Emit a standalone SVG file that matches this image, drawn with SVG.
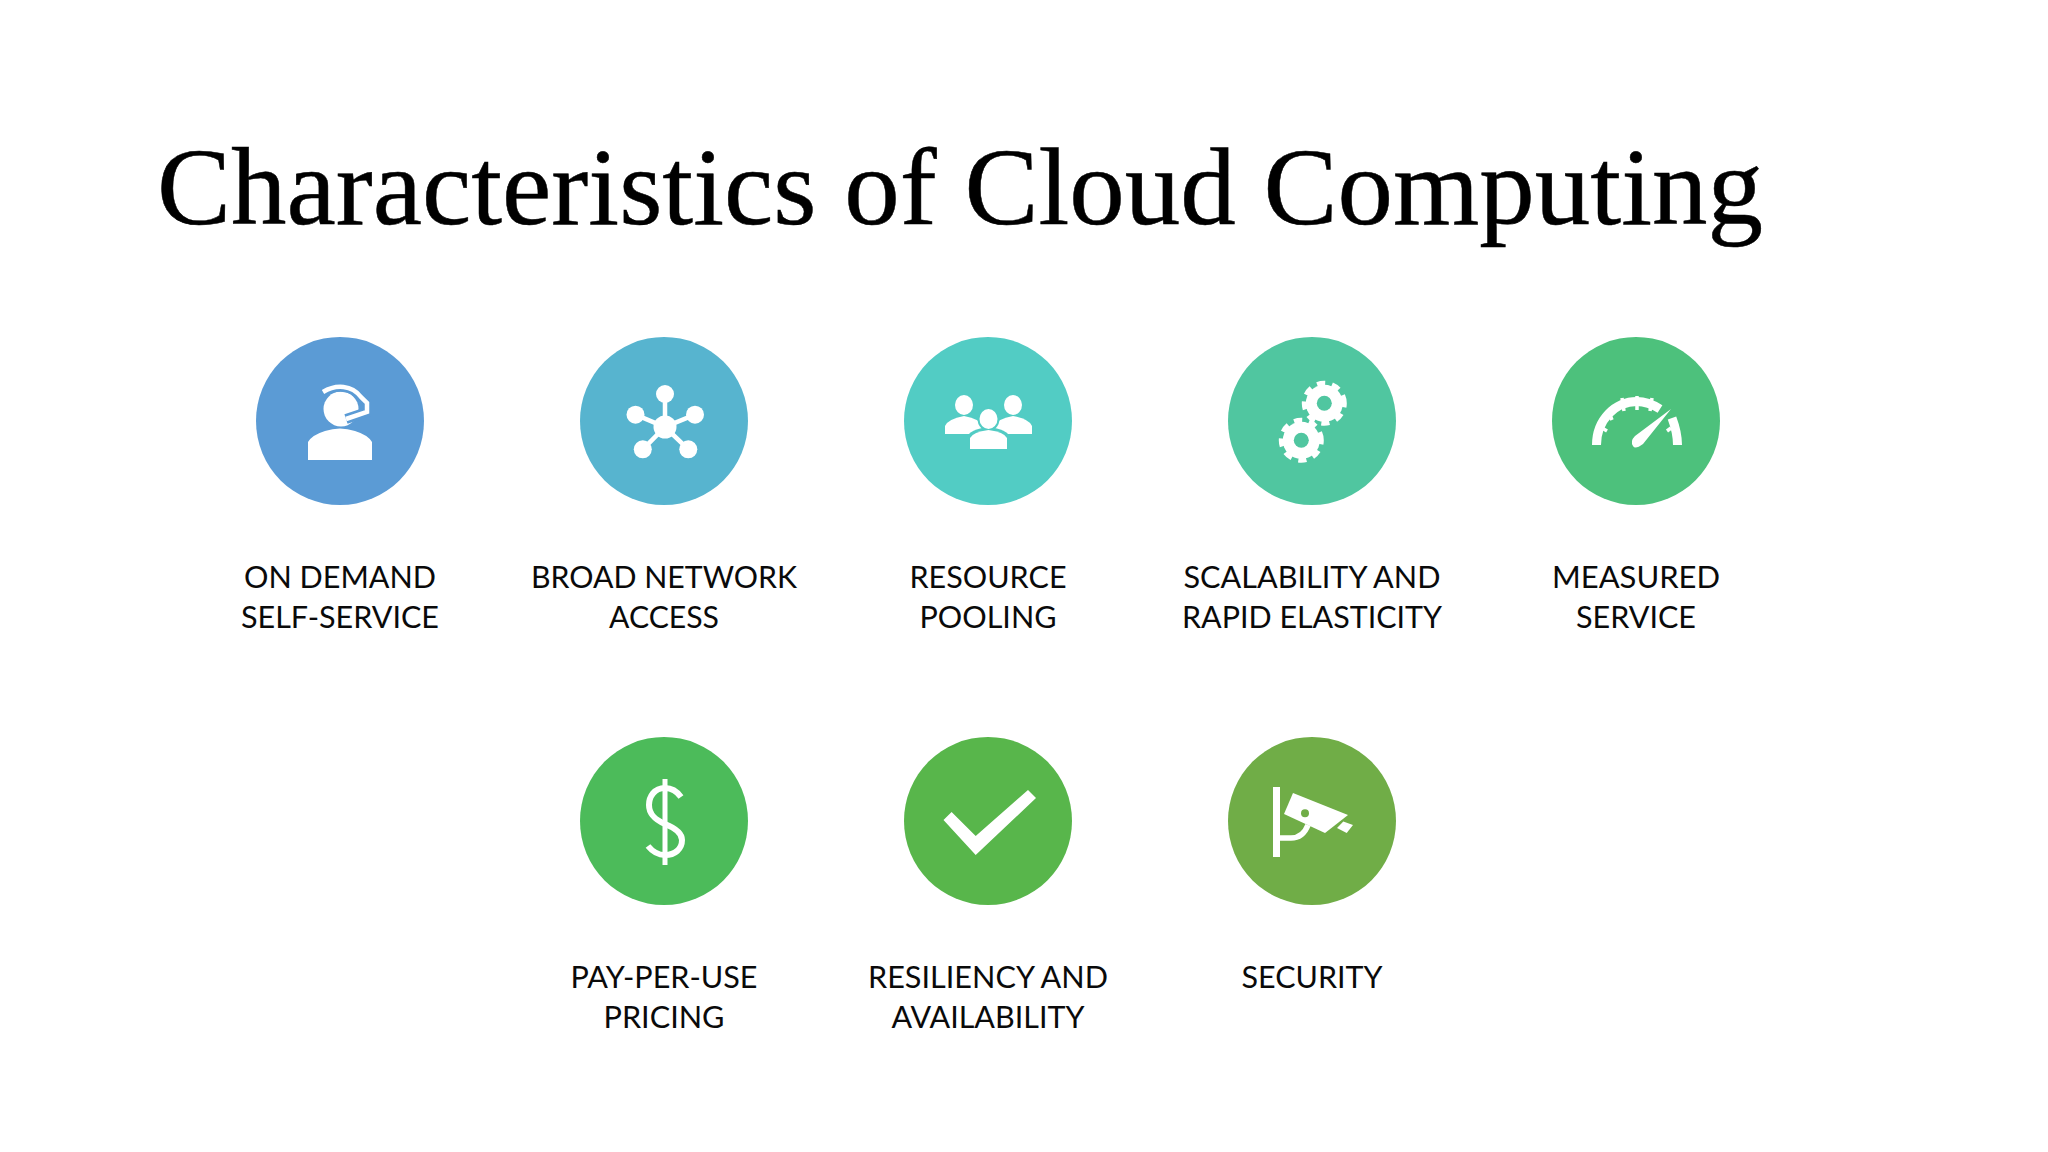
<svg xmlns="http://www.w3.org/2000/svg" xmlns:xlink="http://www.w3.org/1999/xlink" width="2048" height="1152" viewBox="0 0 2048 1152">
<style>
.t{font-family:"Liberation Serif","Times New Roman",serif;font-size:110px;fill:#000;stroke:#000;stroke-width:.5}
.l{font-family:Lato,"Open Sans",sans-serif;font-size:31.500px;fill:#0a0a0a;text-anchor:middle}
.w{fill:#fff}
.s{fill:none;stroke:#fff}
</style>
<defs>
<g id="gear"><circle r="18.500" class="w"/><circle r="19.500" fill="none" stroke="#fff" stroke-width="6" stroke-dasharray="8 6.700" stroke-dashoffset="4"/></g>
</defs>
<rect width="2048" height="1152" fill="#fff"/>
<text id="title" class="t" x="157" y="224" textLength="1606" lengthAdjust="spacingAndGlyphs">Characteristics of Cloud Computing</text>

<g id="node-on-demand">
<circle cx="340" cy="421" r="84" fill="#5b9bd5"/>
<circle cx="341" cy="409" r="17.500" class="w"/>
<path d="M323 392C336 384 352 385 361 397L367 403V412L346 419" fill="none" stroke="#5b9bd5" stroke-width="10"/>
<path d="M323 392C336 384 352 385 361 397L367 403V412L346 419" class="s" stroke-width="4.500"/>
<path d="M308 460V442Q312 435 325 431Q340 426 355 431Q368 435 372 442V460Z" class="w"/>
<text class="l" x="340" y="588" textLength="192" lengthAdjust="spacingAndGlyphs">ON DEMAND</text>
<text class="l" x="340" y="628" textLength="198" lengthAdjust="spacingAndGlyphs">SELF-SERVICE</text>
</g>

<g id="node-broad-network">
<circle cx="664" cy="421" r="84" fill="#57b4cf"/>
<path d="M665 394V427L635.500 414.700M695 414.700L665 427L642.800 449.300M688.300 449.300L665 427" class="s" stroke-width="4.500"/>
<g class="w"><circle cx="665" cy="427" r="11.500"/><circle cx="665" cy="394" r="9"/><circle cx="635.500" cy="414.700" r="9"/><circle cx="695" cy="414.700" r="9"/><circle cx="642.800" cy="449.300" r="9"/><circle cx="688.300" cy="449.300" r="9"/></g>
<text class="l" x="664" y="588" textLength="266" lengthAdjust="spacingAndGlyphs">BROAD NETWORK</text>
<text class="l" x="664" y="628" textLength="110" lengthAdjust="spacingAndGlyphs">ACCESS</text>
</g>

<g id="node-resource-pooling">
<circle cx="988" cy="421" r="84" fill="#52ccc4"/>
<g class="w">
<ellipse cx="964" cy="405" rx="9" ry="10"/><ellipse cx="1013" cy="405" rx="9" ry="10"/>
<path d="M945 434V426Q948 419 964 416Q980 419 983 426V434Z"/><path d="M994 434V426Q997 419 1013 416Q1029 419 1032 426V434Z"/>
</g>
<ellipse cx="988.500" cy="419" rx="11" ry="12" fill="#52ccc4"/>
<path d="M966 452V438Q970 429 988.500 427Q1007 429 1011 438V452Z" fill="#52ccc4"/>
<g class="w"><ellipse cx="988.500" cy="419" rx="9" ry="10"/><path d="M970 449V438Q973 432 988.500 430Q1004 432 1007 438V449Z"/></g>
<text class="l" x="988" y="588" textLength="157" lengthAdjust="spacingAndGlyphs">RESOURCE</text>
<text class="l" x="988" y="628" textLength="137" lengthAdjust="spacingAndGlyphs">POOLING</text>
</g>

<g id="node-scalability">
<circle cx="1312" cy="421" r="84" fill="#50c6a0"/>
<use xlink:href="#gear" href="#gear" x="1324.300" y="403.300"/>
<use xlink:href="#gear" href="#gear" x="1301.300" y="440.300"/>
<circle cx="1324.300" cy="403.300" r="7.500" fill="#50c6a0"/>
<circle cx="1301.300" cy="440.300" r="7.500" fill="#50c6a0"/>
<text class="l" x="1312" y="588" textLength="257" lengthAdjust="spacingAndGlyphs">SCALABILITY AND</text>
<text class="l" x="1312" y="628" textLength="260" lengthAdjust="spacingAndGlyphs">RAPID ELASTICITY</text>
</g>

<g id="node-measured">
<circle cx="1636" cy="421" r="84" fill="#4dc17c"/>
<path d="M1596.500 445C1596.500 420 1615 401.500 1637 401.500C1645 401.500 1652 404 1660 409" class="s" stroke-width="9"/>
<path d="M1672 418C1675 426 1677.500 434 1677.500 445" class="s" stroke-width="9"/>
<path d="M1637 396V410M1622 398L1624 411M1652 398L1650 411M1608 410L1612 420M1602 428L1607 431M1671 428L1667 431" class="s" stroke-width="3.500"/>
<path d="M1671 409L1643 444Q1635 450 1633 446Q1630 441 1635 436Z" class="w"/>
<text class="l" x="1636" y="588" textLength="168" lengthAdjust="spacingAndGlyphs">MEASURED</text>
<text class="l" x="1636" y="628" textLength="120" lengthAdjust="spacingAndGlyphs">SERVICE</text>
</g>

<g id="node-pay-per-use">
<circle cx="664" cy="821" r="84" fill="#4cbb5a"/>
<path d="M665 779V865" class="s" stroke-width="5"/>
<path d="M681 797C676 790 670 788 665 788C654 788 649 797 649 805C649 815 656 820 665 824C675 828 682 833 682 840C682 849 675 855 665 855C657 855 652 851 648 846" class="s" stroke-width="6"/>
<text class="l" x="664" y="988" textLength="187" lengthAdjust="spacingAndGlyphs">PAY-PER-USE</text>
<text class="l" x="664" y="1028" textLength="121" lengthAdjust="spacingAndGlyphs">PRICING</text>
</g>

<g id="node-resiliency">
<circle cx="988" cy="821" r="84" fill="#58b64b"/>
<path d="M951.600 812L975.700 836L1028 790L1036 798L975.700 855L943.500 820Z" class="w"/>
<text class="l" x="988" y="988" textLength="240" lengthAdjust="spacingAndGlyphs">RESILIENCY AND</text>
<text class="l" x="988" y="1028" textLength="193" lengthAdjust="spacingAndGlyphs">AVAILABILITY</text>
</g>

<g id="node-security">
<circle cx="1312" cy="821" r="84" fill="#70ad47"/>
<rect x="1273" y="787" width="7" height="70" class="w"/>
<path d="M1278 838H1291Q1303 838 1308 825" class="s" stroke-width="5.500"/>
<path d="M1293 793L1284 814L1325 833L1334 826L1348 815Z" class="w"/>
<circle cx="1305" cy="813.300" r="4" fill="#70ad47"/>
<path d="M1337 828L1346.700 833L1353 825L1343.300 821.500Z" class="w"/>
<text class="l" x="1312" y="988" textLength="141" lengthAdjust="spacingAndGlyphs">SECURITY</text>
</g>

<g id="connectors"></g>
</svg>
